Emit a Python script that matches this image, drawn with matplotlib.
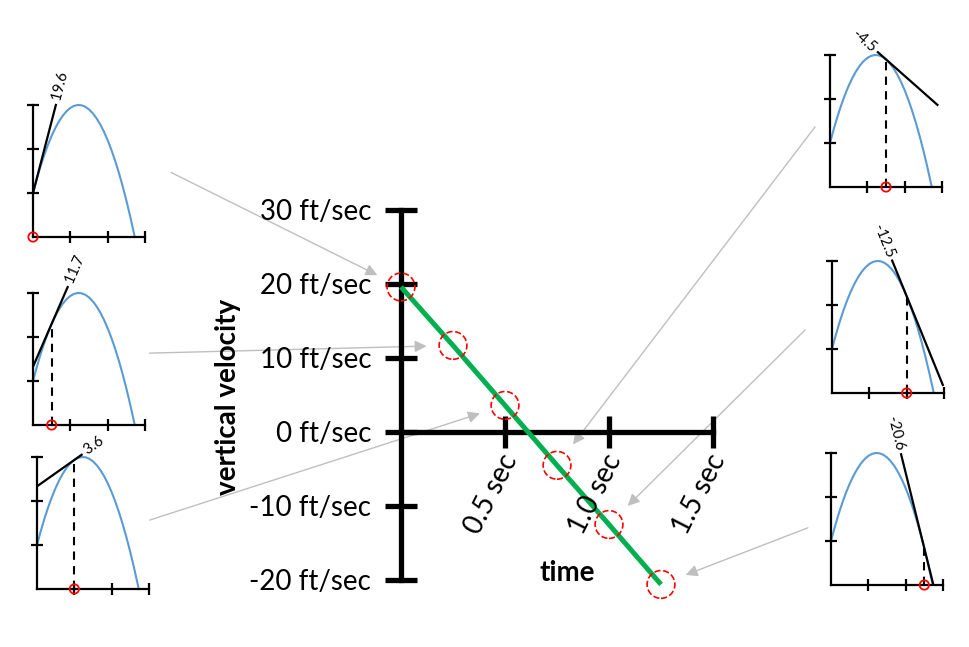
import numpy as np
import matplotlib.pyplot as plt
from matplotlib.patches import ConnectionPatch

plt.rcParams['font.family'] = ['Lato', 'DejaVu Sans']

# vertical velocity of the ball at six moments = slope of each tangent
times = [0.0, 0.25, 0.5, 0.75, 1.0, 1.25]
velocities = [19.6, 11.7, 3.6, -4.5, -12.5, -20.6]
slope_labels = ["19.6", "11.7", "3.6", "-4.5", "-12.5", "-20.6"]

v_ticks = [30, 20, 10, 0, -10, -20]
v_tick_labels = ["30 ft/sec", "20 ft/sec", "10 ft/sec", "0 ft/sec",
                 "-10 ft/sec", "-20 ft/sec"]
t_ticks = [0.5, 1.0, 1.5]
t_tick_labels = ["0.5 sec", "1.0 sec", "1.5 sec"]

# height of the ball (ft)
traj_t = [0.0, 0.05, 0.1, 0.15, 0.2, 0.25, 0.3, 0.35, 0.4, 0.45, 0.5, 0.55,
          0.6, 0.65, 0.7, 0.75, 0.8, 0.85, 0.9, 0.95, 1.0, 1.05, 1.1, 1.15,
          1.2, 1.25, 1.3, 1.35, 1.3625]
traj_h = [3.00, 3.94, 4.80, 5.58, 6.28, 6.90, 7.44, 7.90, 8.28, 8.58, 8.80,
          8.94, 9.00, 8.98, 8.88, 8.70, 8.44, 8.10, 7.68, 7.18, 6.60, 5.94,
          5.20, 4.38, 3.48, 2.50, 1.44, 0.30, 0.0]
h_at_times = [3.0, 6.9, 8.8, 8.7, 6.6, 2.5]

# stretch of each tangent segment (sec)
tan_from = [0.0, 0.0, 0.0, 0.63, 0.80, 0.935]
tan_to = [0.31, 0.47, 0.61, 1.45, 1.49, 1.37]

W, H = 970, 647
fig = plt.figure(figsize=(W / 100, H / 100), dpi=100)


def px_rect(x0, y_bottom, w, h):
    return [x0 / W, (H - y_bottom) / H, w / W, h / H]


# ---- main velocity chart
ax = fig.add_axes(px_rect(401, 580, 312, 370))
ax.set_facecolor('none')
ax.set_xlim(0, 1.5)
ax.set_ylim(-20, 30)
for s in ['top', 'right']:
    ax.spines[s].set_visible(False)
ax.spines['left'].set_position(('data', 0))
ax.spines['bottom'].set_position(('data', 0))
for s in ['left', 'bottom']:
    ax.spines[s].set_linewidth(3.8)
ax.set_yticks(v_ticks, v_tick_labels)
ax.set_xticks(t_ticks, ["", "", ""])
ax.tick_params(direction='inout', length=23, width=3.8, labelsize=20, pad=10)

ax.plot(times, velocities, color='#00b050', lw=3.6, clip_on=False, zorder=3,
        solid_capstyle='butt')
ax.scatter(times, velocities, s=400, facecolors='none', edgecolors='red',
           linestyles='--', linewidths=1.2, zorder=4, clip_on=False)

for t, lab in zip(t_ticks, t_tick_labels):
    ax.annotate(lab, xy=(t, 0), xytext=(4, -17), textcoords='offset points',
                rotation=63, ha='right', va='center', rotation_mode='anchor',
                fontsize=20)

fig.text(228 / W, 1 - 397 / H, "vertical velocity", rotation=90, ha='center',
         va='center', fontsize=20, fontweight='bold')
fig.text(567 / W, 1 - 573 / H, "time", ha='center', va='center',
         fontsize=20, fontweight='bold')

# ---- small height charts
origins = [(33, 237), (33, 425), (37, 589), (830, 187), (832, 393), (831, 585)]
arrow_start = [(1.85, 4.4), (1.56, 4.9), (1.51, 4.7),
               (-0.2, 4.1), (-0.36, 4.3), (-0.31, 3.9)]

for i, (ox, oy) in enumerate(origins):
    a = fig.add_axes(px_rect(ox, oy, 112, 132))
    a.set_facecolor('none')
    a.set_xlim(0, 1.5)
    a.set_ylim(0, 9)
    for s in ['top', 'right']:
        a.spines[s].set_visible(False)
    for s in ['left', 'bottom']:
        a.spines[s].set_linewidth(1.6)
    a.set_xticks([0.5, 1.0, 1.5], [])
    a.set_yticks([3, 6, 9], [])
    a.tick_params(direction='inout', length=9, width=1.6)

    a.plot(traj_t, traj_h, color='#5b9bd5', lw=1.5, clip_on=False)

    t0, h0, v = times[i], h_at_times[i], velocities[i]
    ta, tb = tan_from[i], tan_to[i]
    a.plot([ta, tb], [h0 + v * (ta - t0), h0 + v * (tb - t0)], color='black',
           lw=1.6, clip_on=False, solid_capstyle='butt')
    if t0 > 0:
        a.plot([t0, t0], [0, h0], color='black', lw=1.5, ls=(0, (4, 3)),
               clip_on=False)
    a.scatter([t0], [0], s=45, facecolors='none', edgecolors='red',
              linewidths=1.3, zorder=5, clip_on=False)

    ang = np.degrees(np.arctan2(v, 1.0))
    if v > 0:
        a.text(tb, h0 + v * (tb - t0), " " + slope_labels[i], rotation=ang,
               transform_rotates_text=True, rotation_mode='anchor',
               ha='left', va='center', fontsize=10.5)
    else:
        a.text(ta, h0 + v * (ta - t0), slope_labels[i] + " ", rotation=ang,
               transform_rotates_text=True, rotation_mode='anchor',
               ha='right', va='center', fontsize=10.5)

    con = ConnectionPatch(xyA=arrow_start[i], coordsA=a.transData,
                          xyB=(t0, v), coordsB=ax.transData,
                          arrowstyle='-|>,head_length=0.5,head_width=0.25',
                          mutation_scale=14, color='#bfbfbf', lw=1,
                          shrinkB=19, zorder=-1)
    fig.add_artist(con)

fig.savefig('out.png', dpi=100)
